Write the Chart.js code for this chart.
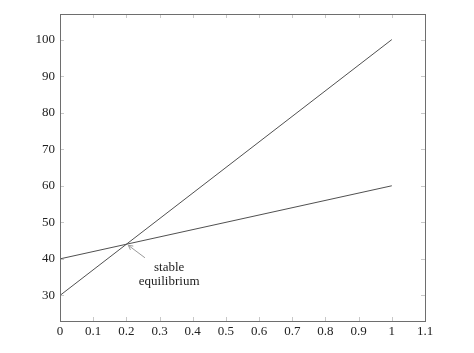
<!DOCTYPE html>
<html>
<head>
<meta charset="utf-8">
<script src="https://cdn.jsdelivr.net/npm/chart.js@4/dist/chart.umd.min.js"></script>
<style>
  html, body { margin: 0; padding: 0; background: #fff; }
  #wrap { width: 474px; height: 353px; }
</style>
</head>
<body>
<div id="wrap"><canvas id="myChart" width="474" height="353"></canvas></div>
<script>
// data
var xValues = [0, 1];
var lineA = [30, 100];   // steep line
var lineB = [40, 60];    // flat line
var xTicks = [0, 0.1, 0.2, 0.3, 0.4, 0.5, 0.6, 0.7, 0.8, 0.9, 1, 1.1];
var yTicks = [30, 40, 50, 60, 70, 80, 90, 100];
var noteLines = ["stable", "equilibrium"];

var fontName = "'Liberation Serif', 'DejaVu Serif', serif";

function pts(ys) {
  return xValues.map(function (x, i) { return { x: x, y: ys[i] }; });
}

// frame + inward ticks + annotation, pgfplots style
var framePlugin = {
  id: "frame",
  afterDatasetsDraw: function (chart) {
    var ctx = chart.ctx;
    var a = chart.chartArea;
    var xs = chart.scales.x, ys = chart.scales.y;
    ctx.save();
    // ticks
    ctx.strokeStyle = "#c8c8c8";
    ctx.lineWidth = 1;
    var len = 4;
    xTicks.forEach(function (t) {
      var px = Math.round(xs.getPixelForValue(t)) + 0.5;
      ctx.beginPath();
      ctx.moveTo(px, a.bottom); ctx.lineTo(px, a.bottom - len);
      ctx.moveTo(px, a.top); ctx.lineTo(px, a.top + len);
      ctx.stroke();
    });
    yTicks.forEach(function (t) {
      var py = Math.round(ys.getPixelForValue(t)) + 0.5;
      ctx.beginPath();
      ctx.moveTo(a.left, py); ctx.lineTo(a.left + len, py);
      ctx.moveTo(a.right, py); ctx.lineTo(a.right - len, py);
      ctx.stroke();
    });
    // frame
    ctx.strokeStyle = "#6e6e6e";
    ctx.strokeRect(Math.round(a.left) + 0.5, Math.round(a.top) + 0.5,
      Math.round(a.right - a.left), Math.round(a.bottom - a.top));

    // annotation arrow
    var tx = xs.getPixelForValue(0.256), ty = ys.getPixelForValue(40.3);
    var hx = xs.getPixelForValue(0.206), hy = ys.getPixelForValue(43.7);
    ctx.strokeStyle = "#9a9a9a";
    ctx.lineWidth = 1;
    ctx.beginPath();
    ctx.moveTo(tx, ty); ctx.lineTo(hx, hy);
    ctx.stroke();
    var ang = Math.atan2(hy - ty, hx - tx);
    ctx.beginPath();
    ctx.moveTo(hx - 5 * Math.cos(ang - 0.5), hy - 5 * Math.sin(ang - 0.5));
    ctx.lineTo(hx, hy);
    ctx.lineTo(hx - 5 * Math.cos(ang + 0.5), hy - 5 * Math.sin(ang + 0.5));
    ctx.stroke();

    // annotation text
    ctx.fillStyle = "#222";
    ctx.font = "13px " + fontName;
    ctx.textAlign = "center";
    ctx.textBaseline = "middle";
    var cx = xs.getPixelForValue(0.329), cy = ys.getPixelForValue(35.8);
    ctx.fillText(noteLines[0], cx, cy - 7);
    ctx.fillText(noteLines[1], cx, cy + 7.5);
    ctx.restore();
  }
};

var chart = new Chart("myChart", {
  type: "scatter",
  data: {
    datasets: [{
      label: "A",
      data: pts(lineA),
      showLine: true,
      borderColor: "#505050",
      borderWidth: 1,
      pointRadius: 0,
      fill: false
    }, {
      label: "B",
      data: pts(lineB),
      showLine: true,
      borderColor: "#505050",
      borderWidth: 1,
      pointRadius: 0,
      fill: false
    }]
  },
  options: {
    responsive: false,
    animation: false,
    layout: { padding: { top: 14, right: 49, left: 0, bottom: 0 } },
    plugins: {
      legend: { display: false },
      tooltip: { enabled: false }
    },
    scales: {
      x: {
        type: "linear",
        min: 0,
        max: 1.1,
        afterBuildTicks: function (s) { s.ticks = xTicks.map(function (v) { return { value: v }; }); },
        afterFit: function (s) { s.height = 32; },
        grid: { display: false, drawTicks: false },
        border: { display: false },
        ticks: {
          padding: 3,
          color: "#222",
          font: { family: fontName, size: 13 },
          callback: function (v) { return String(Math.round(v * 10) / 10); }
        }
      },
      y: {
        type: "linear",
        min: 23,
        max: 107,
        afterBuildTicks: function (s) { s.ticks = yTicks.map(function (v) { return { value: v }; }); },
        afterFit: function (s) { s.width = 60; },
        grid: { display: false, drawTicks: false },
        border: { display: false },
        ticks: {
          padding: 5,
          color: "#222",
          font: { family: fontName, size: 13 }
        }
      }
    }
  },
  plugins: [framePlugin]
});
</script>
</body>
</html>
